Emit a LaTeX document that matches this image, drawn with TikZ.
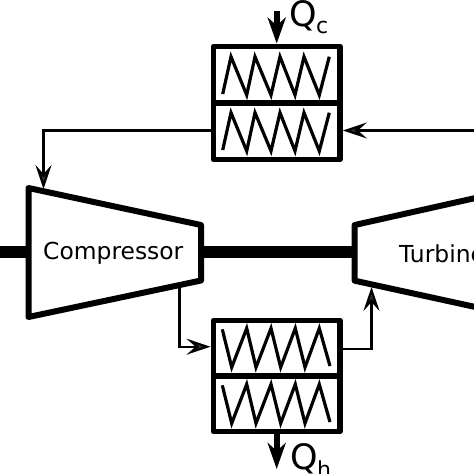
\documentclass[tikz,border=0pt]{standalone}
\usepackage{fontspec}
\setmainfont{DejaVu Sans}
\usetikzlibrary{arrows.meta,calc}
\tikzset{
  cell/.style={draw=black,line width=5.8pt,fill=white,inner sep=0pt,minimum width=126.5pt,line join=round},
  machine/.style={draw=black,line width=6pt,fill=white,line join=round},
  shaft/.style={line width=11.5pt,line cap=butt},
  zig/.style={line width=3.2pt,line join=miter},
  flow/.style={line width=2.2pt,-{Stealth[length=24pt,width=16pt,inset=9pt,fill=black!80]}},
  heat/.style={line width=6pt,-{Stealth[length=26pt,width=18pt,inset=8pt,fill=black]}},
  label/.style={inner sep=0pt,anchor=base west,text=black}
}
\begin{document}
\begin{tikzpicture}[x=1pt,y=-1pt]
\useasboundingbox (0,0) rectangle (474,474);
\clip (0,0) rectangle (474,474);
\fill[white] (0,0) rectangle (474,474);
% free ends and machine ports
\coordinate (shaftL) at (0,252);
\coordinate (edgeR) at (474,130.5);
\coordinate (compIn) at (43.5,189);
\coordinate (compOut) at (179.5,288);
\coordinate (turbIn) at (371.5,287);
\coordinate (qcTop) at (276.7,11);
\coordinate (qhEnd) at (276.7,469);
% shaft
\draw[shaft] (shaftL) -- (28,252);
\draw[shaft] (201,252) -- (355,252);
% machines
\draw[machine] (28.5,188) -- (201,225) -- (201,280.5) -- (28.5,317) -- cycle;
\draw[machine] (354.7,225) -- (480,197) -- (480,308) -- (354.7,280.7) -- cycle;
\node[label,font=\fontsize{23.4pt}{26pt}\selectfont] (comp) at (43,259.5) {Compressor};
\node[label,font=\fontsize{23.4pt}{26pt}\selectfont] (turb) at (399,262) {Turbine};
% heat exchangers
\node[cell,minimum height=56.5pt] (hxcA) at (276.7,74.75) {};
\node[cell,minimum height=56.5pt] (hxcB) at (276.7,131.25) {};
\node[cell,minimum height=55.5pt] (hxhA) at (276.7,348.25) {};
\node[cell,minimum height=55.5pt] (hxhB) at (276.7,403.75) {};
% zigzags
\draw[zig] (222.7,94) -- (231,56.7) -- (246.7,95) -- (255,56.7) -- (271,95) -- (280,56.7) -- (295,95) -- (304,56.7) -- (319.3,95) -- (329.3,56.7);
\draw[zig] (222.7,150) -- (231,112.7) -- (246.7,151) -- (255,112.7) -- (271,151) -- (280,112.7) -- (295,151) -- (304,112.7) -- (319.3,151) -- (329.3,112.7);
\draw[zig] (222.3,329.3) -- (231.7,367.3) -- (246.7,328.3) -- (256,367.3) -- (271,328.3) -- (280.7,367.3) -- (295.3,328.3) -- (305,367.3) -- (319.3,328.3) -- (330,366);
\draw[zig] (222.3,385.3) -- (231.7,423.3) -- (246.7,384.3) -- (256,423.3) -- (271,384.3) -- (280.7,423.3) -- (295.3,384.3) -- (305,423.3) -- (319.3,384.3) -- (330,422);
% connectors
\draw[flow] (edgeR) -- (hxcB.east |- edgeR);
\draw[flow] (hxcB.west |- 0,130.5) -| (compIn);
\draw[flow] (compOut) |- (hxhA.west |- 0,346.7);
\draw[flow] (hxhA.east |- 0,349) -| (turbIn);
\draw[heat] (qcTop) -- (hxcA.north);
\draw[heat] (hxhB.south) -- (qhEnd);
% heat labels
\node[label,font=\fontsize{35pt}{37pt}\selectfont] (qc) at (289,26) {Q};
\node[label,font=\fontsize{22pt}{24pt}\selectfont] (qcs) at (316,33.3) {c};
\node[label,font=\fontsize{35pt}{37pt}\selectfont] (qh) at (290,469) {Q};
\node[label,font=\fontsize{22pt}{24pt}\selectfont] (qhs) at (317,477) {h};
\end{tikzpicture}
\end{document}
